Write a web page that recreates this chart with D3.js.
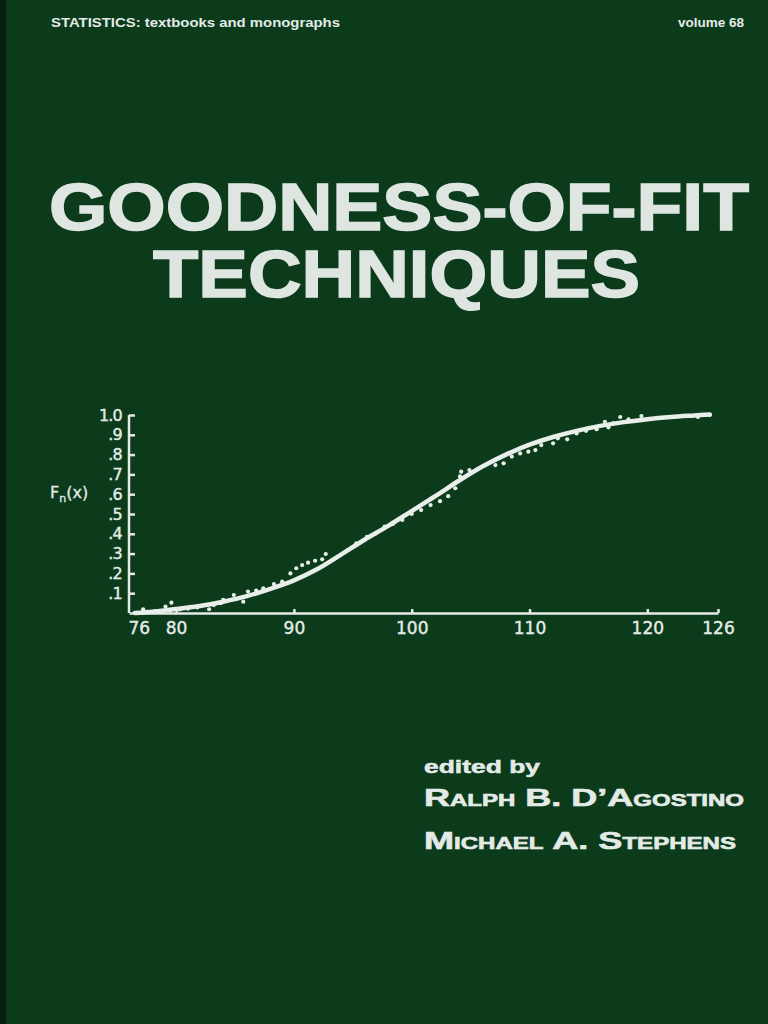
<!DOCTYPE html>
<html lang="en">
<head>
<meta charset="utf-8">
<title>Goodness-of-Fit Techniques</title>
<style>
  body { margin: 0; background: #0c3b1c; }
  svg { display: block; }
  .ax path, .ax line { stroke: #e4ebe7; stroke-width: 2.5; }
  .ax text { fill: #e4ebe7; stroke: #e4ebe7; stroke-width: 0.4; font-family: "DejaVu Sans", sans-serif; }
</style>
<script src="https://d3js.org/d3.v7.min.js"></script>
</head>
<body>
<script>
// smooth fitted distribution
var curveX = [76.5, 78, 80, 82, 84, 86, 88, 90, 92, 94, 96, 98, 100, 102, 104, 106, 108, 110, 112, 114, 116, 118, 120, 122, 124, 125.3];
var curveF = [0.0, 0.006, 0.02, 0.035, 0.057, 0.085, 0.122, 0.165, 0.222, 0.295, 0.37, 0.44, 0.515, 0.59, 0.668, 0.74, 0.80, 0.85, 0.889, 0.92, 0.945, 0.964, 0.979, 0.99, 0.998, 1.003];

// empirical points F_n(x)
var dotX = [77.2, 78.2, 79.1, 79.5, 79.6, 80.3, 81.0, 81.8, 82.8, 83.2, 83.8, 84.0, 84.9, 85.7, 86.1, 86.8, 87.4, 88.3, 89.0, 89.7, 90.2, 90.7, 91.2, 91.8, 92.4, 92.7,
            94.6, 95.3, 96.2, 96.9, 97.7, 98.4, 99.2, 100.0, 100.8, 101.6, 102.4, 103.1, 103.7, 104.1, 104.2, 104.9,
            107.1, 107.8, 108.5, 109.2, 109.9, 110.5, 111.0, 112.0, 112.4, 113.2, 114.0, 114.8, 115.7, 116.4, 116.7, 117.1, 117.7, 118.4, 119.5,
            124.3, 124.8, 125.3];
var dotF = [0.019, 0.01, 0.032, 0.012, 0.052, 0.018, 0.022, 0.028, 0.019, 0.04, 0.05, 0.066, 0.091, 0.057, 0.108, 0.113, 0.125, 0.146, 0.158, 0.20, 0.226, 0.242, 0.254, 0.264, 0.271, 0.298,
            0.318, 0.352, 0.385, 0.40, 0.436, 0.45, 0.47, 0.5, 0.52, 0.545, 0.565, 0.59, 0.63, 0.69, 0.714, 0.722,
            0.747, 0.756, 0.79, 0.806, 0.815, 0.823, 0.848, 0.857, 0.882, 0.877, 0.907, 0.92, 0.928, 0.966, 0.938, 0.958, 0.99, 0.978, 0.995,
            0.99, 1.0, 1.0];

var xTicks = [76, 80, 90, 100, 110, 120, 126];
var yTicks = [0.1, 0.2, 0.3, 0.4, 0.5, 0.6, 0.7, 0.8, 0.9, 1.0];

var W = 768, H = 1024;
var ink = "#e4ebe7";

var svg = d3.select("body").append("svg")
  .attr("width", W)
  .attr("height", H);

svg.append("rect").attr("width", W).attr("height", H).attr("fill", "#0c3b1c");
svg.append("rect").attr("width", 6).attr("height", H).attr("fill", "#05200d");

// header
svg.append("text")
  .attr("x", 51).attr("y", 27)
  .attr("textLength", 289).attr("lengthAdjust", "spacingAndGlyphs")
  .style("font", "bold 13.5px 'Liberation Sans', Arial, sans-serif")
  .style("fill", ink)
  .text("STATISTICS: textbooks and monographs");
svg.append("text")
  .attr("x", 744).attr("y", 27)
  .attr("text-anchor", "end")
  .style("font", "bold 13.5px 'Liberation Sans', Arial, sans-serif")
  .style("fill", ink)
  .text("volume 68");

// title
var titleLines = [
  {t: "GOODNESS-OF-FIT", x: 49, y: 230, w: 700},
  {t: "TECHNIQUES", x: 153, y: 297, w: 487}
];
svg.selectAll(".title").data(titleLines).enter().append("text")
  .attr("class", "title")
  .attr("x", function(d){ return d.x; })
  .attr("y", function(d){ return d.y; })
  .attr("textLength", function(d){ return d.w; })
  .attr("lengthAdjust", "spacingAndGlyphs")
  .style("font", "bold 66px 'Liberation Sans', Arial, sans-serif")
  .style("fill", "#dfe6e2")
  .style("stroke", "#dfe6e2")
  .style("stroke-width", 1.5)
  .text(function(d){ return d.t; });

// chart
var x = d3.scaleLinear().domain([76, 126]).range([129, 718]);
var y = d3.scaleLinear().domain([0, 1]).range([613, 415]);

var gx = svg.append("g")
  .attr("class", "ax")
  .attr("transform", "translate(0," + y(0) + ")")
  .call(d3.axisBottom(x).tickValues(xTicks).tickSize(-4).tickPadding(9).tickSizeOuter(0).tickFormat(d3.format("d")));
gx.selectAll("text").style("font-size", "17px");
gx.selectAll(".tick").filter(function(d){ return d === 76; }).select("text")
  .attr("text-anchor", "start").attr("dx", -1);
gx.selectAll(".tick").filter(function(d){ return d === 76; }).select("line").remove();

var gy = svg.append("g")
  .attr("class", "ax")
  .attr("transform", "translate(" + x(76) + ",0)")
  .call(d3.axisLeft(y).tickValues(yTicks).tickSize(-6).tickPadding(7).tickSizeOuter(0)
    .tickFormat(function(d){ return d === 1 ? "1.0" : d3.format(".1f")(d).replace(/^0/, ""); }));
gy.selectAll("text").style("font-size", "16px").style("letter-spacing", "-0.8px");
gy.select(".domain").attr("d", "M0," + y(1) + "V" + y(0));

// F_n(x) label
var fl = svg.append("text")
  .attr("x", 50).attr("y", 498)
  .style("font", "16px 'DejaVu Sans', sans-serif")
  .style("fill", ink)
  .style("stroke", ink)
  .style("stroke-width", 0.3);
fl.append("tspan").text("F");
fl.append("tspan").attr("dy", 4).style("font-size", "11px").text("n");
fl.append("tspan").attr("dy", -4).text("(x)");

// fitted curve
var line = d3.line()
  .x(function(d){ return x(d[0]); })
  .y(function(d){ return y(d[1]); })
  .curve(d3.curveCatmullRom);
svg.append("path")
  .datum(d3.zip(curveX, curveF))
  .attr("d", line)
  .attr("fill", "none")
  .attr("stroke", "#e8eeea")
  .attr("stroke-width", 4.5)
  .attr("stroke-linecap", "round");

// empirical points
svg.selectAll(".pt").data(d3.zip(dotX, dotF)).enter().append("circle")
  .attr("class", "pt")
  .attr("cx", function(d){ return x(d[0]); })
  .attr("cy", function(d){ return y(d[1]); })
  .attr("r", 2.1)
  .attr("fill", "#e8eeea");

// editors
svg.append("text")
  .attr("x", 424).attr("y", 773)
  .attr("textLength", 116).attr("lengthAdjust", "spacingAndGlyphs")
  .style("font", "bold 18px 'Liberation Sans', Arial, sans-serif")
  .style("fill", ink)
  .style("stroke", ink)
  .style("stroke-width", 0.5)
  .text("edited by");

var editors = [
  {segs: [["R",1],["ALPH",0],[" B. D\u2019A",1],["GOSTINO",0]], x: 424, y: 806, w: 320},
  {segs: [["M",1],["ICHAEL",0],[" A. S",1],["TEPHENS",0]], x: 424, y: 849, w: 312}
];
editors.forEach(function(e){
  var t = svg.append("text")
    .attr("x", e.x).attr("y", e.y)
    .attr("textLength", e.w).attr("lengthAdjust", "spacingAndGlyphs")
    .style("font-family", "'Liberation Sans', Arial, sans-serif")
    .style("font-weight", "bold")
    .style("fill", ink)
    .style("stroke", ink)
    .style("stroke-width", 0.6);
  e.segs.forEach(function(s){
    t.append("tspan").style("font-size", s[1] ? "24px" : "16px").text(s[0]);
  });
});
</script>
</body>
</html>
